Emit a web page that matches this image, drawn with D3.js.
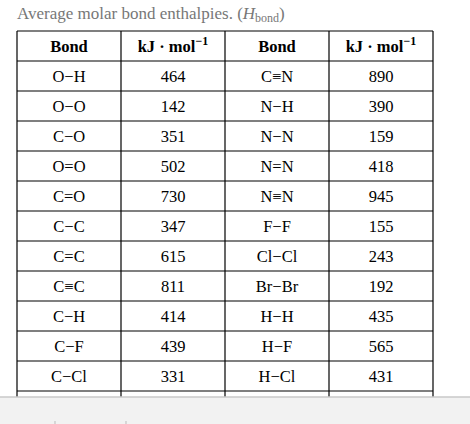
<!DOCTYPE html>
<html><head><meta charset="utf-8">
<script src="https://cdn.jsdelivr.net/npm/d3@7"></script>
<style>body{margin:0;background:#fff;overflow:hidden}</style>
</head><body><svg id="c" width="470" height="424"></svg>
<script>
const headers = ["Bond","kJ · mol","Bond","kJ · mol"];
const bondsA = ["O−H","O−O","C−O","O=O","C=O","C−C","C=C","C≡C","C−H","C−F","C−Cl"];
const valuesA = [464,142,351,502,730,347,615,811,414,439,331];
const bondsB = ["C≡N","N−H","N−N","N=N","N≡N","F−F","Cl−Cl","Br−Br","H−H","H−F","H−Cl"];
const valuesB = [890,390,159,418,945,155,243,192,435,565,431];

const svg = d3.select("#c");
const font = "'Liberation Serif', 'Times New Roman', serif";
const x = d3.scaleBand().domain([0,1,2,3]).range([17,433]);
const y = d3.scaleBand().domain(d3.range(13)).range([31,421]);

const t = svg.append("text").attr("x",17).attr("y",19).attr("font-family",font)
  .attr("font-size",17).attr("fill","#777");
t.append("tspan").text("Average molar bond enthalpies. (");
t.append("tspan").attr("font-style","italic").text("H");
t.append("tspan").attr("font-size",12).attr("dy",3).text("bond");
t.append("tspan").attr("dy",-3).text(")");

const g = svg.append("g").attr("stroke","#000").attr("stroke-width",1.2);
[0,1,2,3,4].forEach(i=>{
  const xx = i<4 ? x(i) : x(3)+x.bandwidth();
  g.append("line").attr("x1",xx).attr("x2",xx).attr("y1",y(0)).attr("y2",421);
});
d3.range(13).forEach(i=>{
  g.append("line").attr("x1",x(0)).attr("x2",x(3)+x.bandwidth()).attr("y1",y(i)).attr("y2",y(i));
});

headers.forEach((h,i)=>{
  const tx = svg.append("text").attr("x",x(i)+x.bandwidth()/2).attr("y",y(0)+y.bandwidth()/2+6)
    .attr("text-anchor","middle").attr("font-family",font).attr("font-size",16.5).attr("font-weight","bold");
  tx.append("tspan").text(h);
  if(i%2) tx.append("tspan").attr("dy",-7).attr("font-size",12).text("−1");
});

const rows = bondsA.map((b,i)=>[b,valuesA[i],bondsB[i],valuesB[i]]);
rows.forEach((r,ri)=>{
  r.forEach((v,ci)=>{
    svg.append("text").attr("x",x(ci)+x.bandwidth()/2).attr("y",y(ri+1)+y.bandwidth()/2+6)
      .attr("text-anchor","middle").attr("font-family",font).attr("font-size",16.5).text(v);
  });
});

svg.append("rect").attr("x",0).attr("y",397).attr("width",470).attr("height",27).attr("fill","#f2f2f2");
svg.append("line").attr("x1",0).attr("x2",470).attr("y1",397).attr("y2",397).attr("stroke","#c8c8c8").attr("stroke-width",1.5);
[55,126].forEach(xx=>svg.append("line").attr("x1",xx).attr("x2",xx).attr("y1",421).attr("y2",424).attr("stroke","#bbb"));
</script></body></html>
